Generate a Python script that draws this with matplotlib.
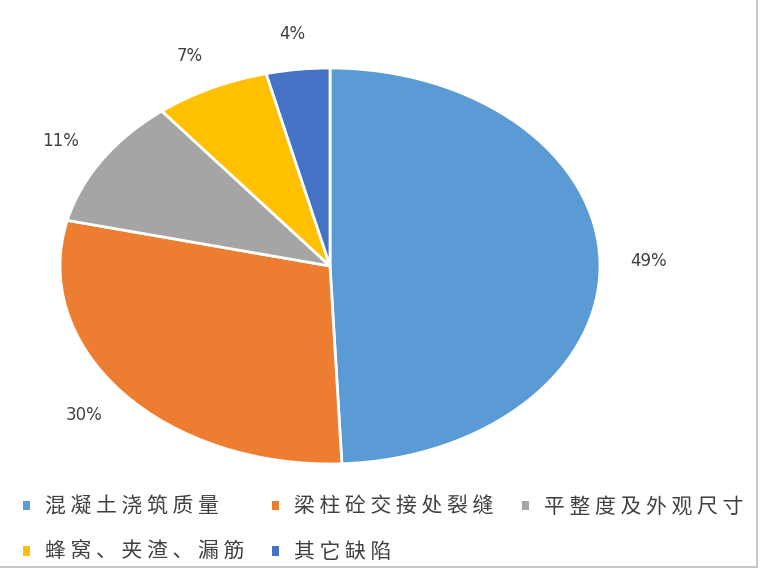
import matplotlib
matplotlib.use('Agg')
import matplotlib.pyplot as plt
from matplotlib.lines import Line2D

plt.rcParams['font.family'] = ['Noto Sans CJK SC', 'DejaVu Sans']

categories = ['混凝土浇筑质量', '梁柱砼交接处裂缝', '平整度及外观尺寸', '蜂窝、夹渣、漏筋', '其它缺陷']
values = [49.3, 29.4, 10.6, 6.9, 3.8]
pct_labels = ['49%', '30%', '11%', '7%', '4%']
colors = ['#5B9BD5', '#ED7D31', '#A5A5A5', '#FFC000', '#4472C4']

fig = plt.figure(figsize=(7.6, 5.7), dpi=100)
W, H = 760, 570
# ellipse: center (330, 266) px, radii 270 x 198 px, limits +-1.1
cx, cy, rx, ry = 330, 266, 270, 198
lim = 1.1
ax = fig.add_axes([(cx - rx * lim) / W, (H - cy - ry * lim) / H,
                   2 * rx * lim / W, 2 * ry * lim / H])

wedges, texts = ax.pie(values, labels=pct_labels, colors=colors, startangle=90,
                       counterclock=False, labeldistance=1.18,
                       wedgeprops=dict(edgecolor='white', linewidth=2),
                       textprops=dict(fontsize=12, color='#404040',
                                      family='DejaVu Sans'))
for t in texts:
    t.set_horizontalalignment('center')
ax.set_aspect('auto')
ax.set_xlim(-lim, lim)
ax.set_ylim(-lim, lim)

# legend text in the reference is letter-spaced
order = [0, 3, 1, 4, 2]
shown = [' '.join(categories[i]) for i in order]
leg = fig.legend([wedges[i] for i in order], shown,
                 ncol=3, loc='upper left', bbox_to_anchor=(23 / W, 1 - 496 / H),
                 frameon=False, fontsize=15, handlelength=0.33, handleheight=0.33,
                 handletextpad=0.72, columnspacing=1.35, labelspacing=1.12,
                 borderpad=0, borderaxespad=0)
for txt in leg.get_texts():
    txt.set_color('#404040')
for h in leg.legend_handles:
    h.set_edgecolor('none')

# grey frame on right and bottom
fig.add_artist(Line2D([757 / W, 757 / W], [3 / H, 1], color='#BFBFBF', lw=1.2))
fig.add_artist(Line2D([0, 757 / W], [3 / H, 3 / H], color='#BFBFBF', lw=1.2))

fig.savefig('out.png', dpi=100)
